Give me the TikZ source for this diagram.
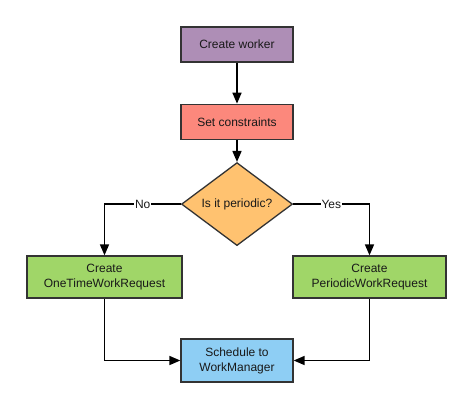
\documentclass[tikz,border=0pt]{standalone}
\usepackage{fontspec}
\setmainfont{Liberation Sans}
\usetikzlibrary{arrows.meta, positioning, shapes.geometric}
\definecolor{workerpurple}{RGB}{174,142,182}
\definecolor{constraintred}{RGB}{252,136,124}
\definecolor{decisionorange}{RGB}{255,194,112}
\definecolor{requestgreen}{RGB}{160,214,104}
\definecolor{managerblue}{RGB}{142,206,244}
\tikzset{
>={Triangle[length=11pt,width=9pt]},
black!80,
text=black!90,
font=\fontsize{12}{15}\selectfont,
box/.style={%
    rectangle,
    minimum width=112pt,
    minimum height=35pt,
    inner sep=2pt,
    align=center,
    line width=1.3pt,
    draw=black!80,
},
decision/.style={%
    diamond, aspect=1.34, inner sep=0pt,
    minimum width=111pt, minimum height=83pt,
    line width=1.3pt, draw=black!80, fill=decisionorange,
},
flow/.style={->, line width=1.6pt},
answer/.style={fill=white, inner sep=1pt, text=black!90},
}

\begin{document}
\begin{tikzpicture}[x=1pt, y=1pt]
	\useasboundingbox (0,0) rectangle (474,-410);
	\node[box, fill=workerpurple] (worker) at (237,-44.5) {Create worker};
	\node[box, fill=constraintred, below=41pt of worker] (constraints) {Set constraints};
	\node[decision, below=22pt of constraints] (periodic) {Is it periodic?};
	\node[box, fill=requestgreen, minimum width=155pt, minimum height=42pt] (onetime) at (104.5,-277) {Create\\OneTimeWorkRequest};
	\node[box, fill=requestgreen, minimum width=153pt, minimum height=42pt] (periodicreq) at (369.5,-277) {Create\\PeriodicWorkRequest};
	\node[box, fill=managerblue, minimum height=43pt] (manager) at (237,-360.5) {Schedule to\\WorkManager};

	\draw[flow] (worker) -- (constraints);
	\draw[flow] (constraints) -- (periodic);
	\draw[flow] (periodic) -| node[answer, pos=0.25] {No} (onetime);
	\draw[flow] (periodic) -| node[answer, pos=0.25] {Yes} (periodicreq);
	\draw[flow] (onetime) |- (manager);
	\draw[flow] (periodicreq) |- (manager);
\end{tikzpicture}
\end{document}
